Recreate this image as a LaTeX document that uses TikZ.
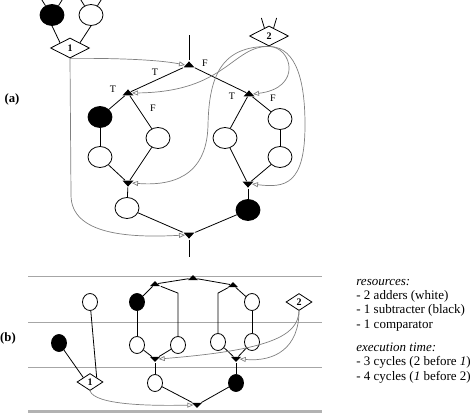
\documentclass[tikz,border=0pt]{standalone}
\usepackage{fontspec}
\setmainfont{Liberation Serif}
\usetikzlibrary{shapes.geometric,arrows.meta}
\begin{document}
\begin{tikzpicture}[x=1pt,y=-1pt,line width=0.8pt]

\tikzstyle{op}=[ellipse,draw,inner sep=0pt,minimum width=24pt,minimum height=21pt]
\tikzstyle{add}=[op,fill=white]
\tikzstyle{sub}=[op,fill=black]
\tikzstyle{small}=[minimum width=15pt,minimum height=17pt]
\tikzstyle{cmp}=[diamond,draw,fill=white,inner sep=0pt,minimum width=39pt,minimum height=20pt,font=\bfseries\fontsize{10}{10}\selectfont]
\tikzstyle{bcmp}=[cmp,minimum width=26pt,minimum height=17pt]
\tikzstyle{branch}=[isosceles triangle,isosceles triangle stretches,shape border rotate=90,fill=black,inner sep=0pt,minimum width=11pt,minimum height=6pt]
\tikzstyle{merge}=[branch,shape border rotate=-90]
\tikzstyle{bbranch}=[branch,minimum width=10pt,minimum height=5pt]
\tikzstyle{bmerge}=[merge,minimum width=10pt,minimum height=5pt]
\tikzstyle{ctrl}=[draw=gray,line width=0.7pt,-{Triangle[open,length=6pt,width=5pt]}]
\tikzstyle{lbl}=[font=\fontsize{10}{10}\selectfont,inner sep=0pt]
\tikzstyle{txt}=[font=\fontsize{13}{14.3}\selectfont,inner sep=0pt,align=left]
\tikzstyle{row}=[draw=gray!70,line width=0.6pt]

\useasboundingbox (0,0) rectangle (474,413);

% (a)
\node[lbl,font=\bfseries\fontsize{12.7}{12.7}\selectfont] (la) at (12,99) {(a)};

\node[sub] (sub1) at (52,15) {};
\node[add] (add1) at (91,15) {};
\node[cmp] (cmp1) at (70,48) {1};
\node[cmp] (cmp2) at (269,36) {2};

\coordinate (ain) at (189,35);
\coordinate (aout) at (189,257);
\node[branch] (fork) at (189,65) {};
\node[branch] (forkL) at (128,93) {};
\node[branch] (forkR) at (249,94) {};
\node[merge] (joinL) at (128,183) {};
\node[merge] (joinR) at (248,184) {};
\node[merge] (join) at (189,235) {};

\node[sub] (subL) at (100,117) {};
\node[add] (addLa) at (100,157) {};
\node[add] (addLb) at (158,138) {};
\node[add] (addLc) at (127,208) {};
\node[add] (addRa) at (225,138) {};
\node[add] (addRb) at (280,119) {};
\node[add] (addRc) at (280,157) {};
\node[sub] (subR) at (248,210) {};

\node[lbl] at (155,72) {T};
\node[lbl] at (205,63) {F};
\node[lbl] at (113,89) {T};
\node[lbl] at (153,108) {F};
\node[lbl] at (232,96) {T};
\node[lbl] at (273,98) {F};

\draw (sub1.125) -- ++(-5,-8);
\draw (sub1.55) -- ++(5,-8);
\draw (add1.125) -- ++(-5,-8);
\draw (add1.55) -- ++(5,-8);
\draw (cmp2.120) -- ++(-3,-10);
\draw (cmp2.60) -- ++(3,-10);
\draw (sub1.south) -- (cmp1.north west);
\draw (add1.south) -- (cmp1.north east);

\draw (ain) -- (fork.apex);
\draw (fork) -- (forkL);
\draw (fork) -- (forkR);
\draw (forkL) -- (subL);
\draw (forkL) -- (addLb);
\draw (subL) -- (addLa);
\draw (addLa) -- (joinL);
\draw (addLb) -- (joinL);
\draw (joinL) -- (addLc);
\draw (addLc) -- (join);
\draw (forkR) -- (addRa);
\draw (forkR) -- (addRb);
\draw (addRb) -- (addRc);
\draw (addRa) -- (joinR);
\draw (addRc) -- (joinR);
\draw (joinR) -- (subR);
\draw (subR) -- (join);
\draw (join.apex) -- (aout);

\draw[ctrl] (cmp1.south) .. controls (120,58) and (160,60) .. (fork.west);
\draw[ctrl] (cmp1.south) -- (71,195) .. controls (71,235) and (130,238) .. (join.west);
\draw[ctrl] (cmp2.south) .. controls (232,46) and (226,92) .. (forkL.east);
\draw[ctrl] (cmp2.south) .. controls (222,46) and (209,75) .. (208,125) .. controls (207,178) and (170,186) .. (joinL.east);
\draw[ctrl] (cmp2.south) .. controls (292,47) and (303,88) .. (forkR.east);
\draw[ctrl] (cmp2.south) .. controls (298,47) and (305,85) .. (305,125) .. controls (305,185) and (285,188) .. (joinR.east);

% (b)
\node[lbl,font=\bfseries\fontsize{12.7}{12.7}\selectfont] (lb) at (8,338) {(b)};

\draw[row] (28,276) -- (322,276);
\draw[row] (28,322) -- (322,322);
\draw[row] (28,367) -- (322,367);
\draw[draw=gray!60,line width=3pt] (28,411) -- (322,411);

\node[bbranch] (bfork) at (193,278) {};
\node[bbranch] (bforkL) at (155,284) {};
\node[bbranch] (bforkR) at (233,285) {};
\node[bmerge] (bjoinL) at (155,359) {};
\node[bmerge] (bjoinR) at (236,359) {};
\node[bmerge] (bjoin) at (197,405) {};

\node[add,small] (badd1) at (90,302) {};
\node[sub,small] (bsub1) at (59,343) {};
\node[bcmp] (bcmp1) at (90,382) {1};
\node[bcmp] (bcmp2) at (299,302) {2};

\node[sub,small] (bsubL) at (137,302) {};
\node[add,small] (baddL0) at (137,345) {};
\node[add,small] (baddL1) at (178,345) {};
\node[add,small] (baddL2) at (155,383) {};
\node[add,small] (baddR0) at (218,342) {};
\node[add,small] (baddR1) at (252,302) {};
\node[add,small] (baddR2) at (252,342) {};
\node[sub,small] (bsubR) at (236,383) {};

\draw (bfork) -- (bforkL);
\draw (bfork) -- (bforkR);
\draw (bforkL) -- (bsubL);
\draw (bforkL) -- (baddL1.north |- bsubL.north) -- (baddL1);
\draw (bsubL) -- (baddL0);
\draw (baddL0) -- (bjoinL);
\draw (baddL1) -- (bjoinL);
\draw (bjoinL) -- (baddL2);
\draw (baddL2) -- (bjoin);
\draw (bforkR) -- (baddR0.north |- baddR1.north) -- (baddR0);
\draw (bforkR) -- (baddR1);
\draw (baddR1) -- (baddR2);
\draw (baddR0) -- (bjoinR);
\draw (baddR2) -- (bjoinR);
\draw (bjoinR) -- (bsubR);
\draw (bsubR) -- (bjoin);
\draw (badd1) -- (bcmp1.north east);
\draw (bsub1) -- (bcmp1.north west);

\draw[ctrl] (bcmp1.south) .. controls (95,405) and (150,406) .. (bjoin.west);
\draw[ctrl] (bcmp2.south) .. controls (298,336) and (270,350) .. (bjoinL.east);
\draw[ctrl] (bcmp2.south) .. controls (299,348) and (275,362) .. (bjoinR.east);

\node[txt,anchor=base west] (res) at (356,328) {\textit{resources:}\\- 2 adders (white)\\- 1 subtracter (black)\\- 1 comparator};
\node[txt,anchor=base west] (exe) at (356,380) {\textit{execution time:}\\- 3 cycles (2 before \textit{1})\\- 4 cycles (\textit{1} before 2)};

\end{tikzpicture}
\end{document}
